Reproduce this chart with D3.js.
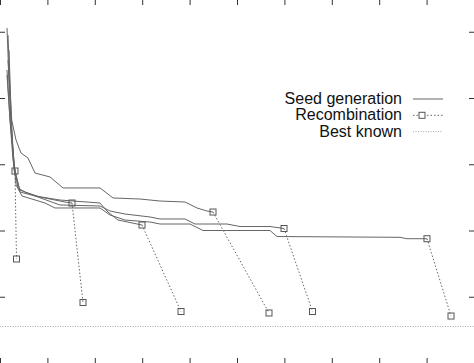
<!DOCTYPE html>
<html>
<head>
<meta charset="utf-8">
<script src="https://cdn.jsdelivr.net/npm/d3@7"></script>
<style>
  body { margin: 0; background: #fff; }
  svg { display: block; }
  .tick text { display: none; }
  .domain { display: none; }
</style>
</head>
<body>
<svg width="474" height="363"></svg>
<script>
// seed generation runs (x: tick units, y: tick units)
var run1X = [0.148, 0.211, 0.274, 0.316];
var run1Y = [4.423, 3.668, 3.215, 2.898];

var run2X = [0.148, 0.211, 0.274, 0.380, 0.527, 0.844, 1.160, 1.371, 1.519];
var run2Y = [4.347, 3.668, 3.064, 2.642, 2.581, 2.506, 2.460, 2.430, 2.415];

var run3X = [0.169, 0.232, 0.295, 0.422, 0.738, 1.266, 2.110, 2.278, 2.489, 2.996];
var run3Y = [4.574, 3.668, 2.989, 2.581, 2.521, 2.460, 2.415, 2.279, 2.158, 2.083];

var run4X = [0.169, 0.211, 0.247, 0.338, 0.443, 0.591, 0.738, 1.055, 1.329, 2.110, 2.384, 2.954, 3.376, 3.903, 4.156, 4.367, 4.494];
var run4Y = [4.951, 4.121, 3.668, 3.366, 3.170, 3.094, 2.868, 2.808, 2.642, 2.642, 2.491, 2.475, 2.445, 2.430, 2.340, 2.294, 2.279];

var run5X = [0.190, 0.232, 0.295, 0.422, 0.738, 1.266, 2.110, 2.321, 2.637, 3.165, 3.376, 3.903, 4.114, 4.789, 5.063, 5.696, 5.992];
var run5Y = [4.725, 3.819, 2.913, 2.611, 2.521, 2.385, 2.370, 2.294, 2.249, 2.204, 2.174, 2.174, 2.098, 2.098, 2.060, 2.060, 2.030];

var run6X = [0.148, 0.190, 0.253, 0.338, 0.464, 0.949, 1.160, 2.110, 2.321, 2.637, 3.165, 3.376, 4.008, 4.283, 5.696, 5.844, 8.439, 8.586, 9.008];
var run6Y = [5.057, 4.272, 3.366, 2.687, 2.521, 2.415, 2.340, 2.340, 2.234, 2.158, 2.128, 2.098, 2.098, 2.000, 2.000, 1.909, 1.897, 1.876, 1.876];

// recombination results (one per run)
var recX = [0.348, 1.751, 3.819, 5.675, 6.593, 9.515];
var recY = [1.570, 0.913, 0.777, 0.755, 0.777, 0.709];

var bestKnown = 0.551;

var xTicks = [0, 1, 2, 3, 4, 5, 6, 7, 8, 9, 10];
var yTicks = [1, 2, 3, 4, 5];

var legendLabels = ['Seed generation', 'Recombination', 'Best known'];

var W = 474, H = 363;
var svg = d3.select('svg');

var scaleX = d3.scaleLinear().domain([0, 10]).range([0, W]);
var scaleY = d3.scaleLinear().domain([0, H / 66.25]).range([H, 0]);

// tick marks only, pointing inward
function ticks(g){
    g.select('.domain').remove();
    g.selectAll('.tick line').attr('stroke', '#333');
}
svg.append('g').call(d3.axisTop(scaleX).tickValues(xTicks).tickSize(-5)).call(ticks);
svg.append('g').attr('transform', 'translate(0,' + H + ')')
    .call(d3.axisBottom(scaleX).tickValues(xTicks).tickSize(-5)).call(ticks);
svg.append('g').call(d3.axisLeft(scaleY).tickValues(yTicks).tickSize(-5)).call(ticks);
svg.append('g').attr('transform', 'translate(' + W + ',0)')
    .call(d3.axisRight(scaleY).tickValues(yTicks).tickSize(-5)).call(ticks);

// best known
svg.append('line')
    .attr('x1', scaleX(0)).attr('x2', scaleX(10))
    .attr('y1', scaleY(bestKnown)).attr('y2', scaleY(bestKnown))
    .attr('stroke', '#aaa')
    .attr('stroke-width', 1)
    .attr('stroke-dasharray', '1,1.5');

var runs = [[run1X, run1Y], [run2X, run2Y], [run3X, run3Y], [run4X, run4Y], [run5X, run5Y], [run6X, run6Y]];

var line = d3.line()
    .x(function(d){ return scaleX(d[0]); })
    .y(function(d){ return scaleY(d[1]); });

runs.forEach(function(r){
    var pts = r[0].map(function(x, i){ return [x, r[1][i]]; });
    svg.append('path')
        .attr('d', line(pts))
        .attr('fill', 'none')
        .attr('stroke', '#666')
        .attr('stroke-width', 1);
});

// recombination: from end of each run down to its result
var recPts = runs.map(function(r, i){
    var n = r[0].length - 1;
    return [[r[0][n], r[1][n]], [recX[i], recY[i]]];
});

recPts.forEach(function(p){
    svg.append('path')
        .attr('d', line(p))
        .attr('fill', 'none')
        .attr('stroke', '#666')
        .attr('stroke-width', 1)
        .attr('stroke-dasharray', '1.5,2');
});

var marks = [];
recPts.forEach(function(p){ marks.push(p[0], p[1]); });

svg.selectAll('.mark')
    .data(marks)
    .enter()
    .append('rect')
    .attr('class', 'mark')
    .attr('x', function(d){ return scaleX(d[0]) - 3; })
    .attr('y', function(d){ return scaleY(d[1]) - 3; })
    .attr('width', 6)
    .attr('height', 6)
    .attr('fill', 'none')
    .attr('stroke', '#555')
    .attr('stroke-width', 1);

// legend
var lg = svg.append('g').attr('font-family', '"Liberation Sans", Arial, sans-serif').attr('font-size', 16);
var rowY = [99, 115.3, 131.6];

legendLabels.forEach(function(t, i){
    lg.append('text')
        .text(t)
        .attr('x', 402)
        .attr('y', rowY[i] + 5)
        .attr('text-anchor', 'end')
        .attr('fill', '#111');
});

lg.append('line').attr('x1', 413).attr('x2', 443).attr('y1', rowY[0]).attr('y2', rowY[0])
    .attr('stroke', '#666');
lg.append('line').attr('x1', 413).attr('x2', 443).attr('y1', rowY[1]).attr('y2', rowY[1])
    .attr('stroke', '#666').attr('stroke-dasharray', '1.5,2');
lg.append('rect').attr('x', 419).attr('y', rowY[1] - 3).attr('width', 6).attr('height', 6)
    .attr('fill', '#fff').attr('stroke', '#555');
lg.append('line').attr('x1', 413).attr('x2', 443).attr('y1', rowY[2]).attr('y2', rowY[2])
    .attr('stroke', '#aaa').attr('stroke-dasharray', '1,1.5');
</script>
</body>
</html>
